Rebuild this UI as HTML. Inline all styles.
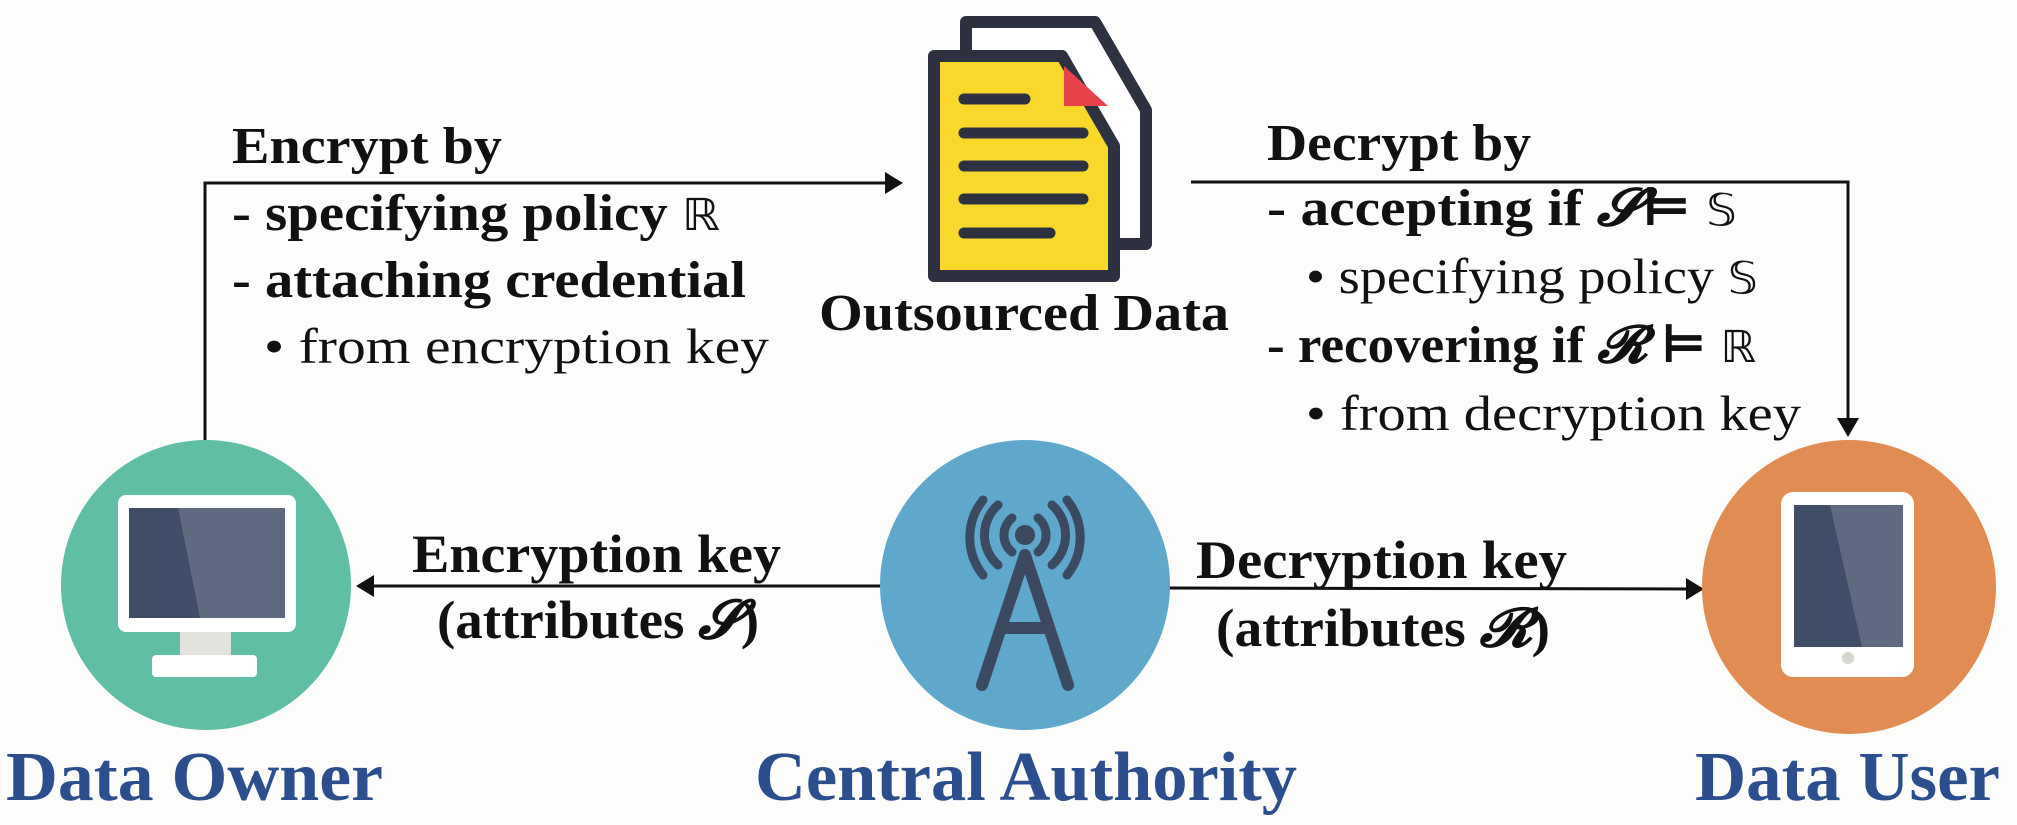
<!DOCTYPE html>
<html><head><meta charset="utf-8"><style>
html,body{margin:0;padding:0;background:#fdfdfc;}
svg{display:block;}
text{font-family:"Liberation Serif","DejaVu Serif",serif;fill:#111;}
.b{font-weight:bold;}
.lab{font-weight:bold;fill:#2b4f8e;font-size:70px;}
</style></head><body>
<svg width="2017" height="825" viewBox="0 0 2017 825" xmlns="http://www.w3.org/2000/svg">
<rect width="2017" height="825" fill="#fdfdfc"/>
<polyline points="205,440 205,183 888,183" fill="none" stroke="#111" stroke-width="3"/>
<polygon points="903,183 885,172 885,194" fill="#111"/>
<polyline points="1191,182 1848,182 1848,420" fill="none" stroke="#111" stroke-width="3"/>
<polygon points="1848,437 1837,418 1859,418" fill="#111"/>
<line x1="881" y1="586" x2="372" y2="586" stroke="#111" stroke-width="3"/>
<polygon points="356,586 374,575 374,597" fill="#111"/>
<line x1="1168" y1="588" x2="1688" y2="589" stroke="#111" stroke-width="3"/>
<polygon points="1704,589 1686,578 1686,600" fill="#111"/>

<path d="M966,22 L1095,22 L1146,110 L1146,244 L966,244 Z" fill="#fff" stroke="#2d3140" stroke-width="12" stroke-linejoin="round"/>
<path d="M934,56 L1062,56 L1114,146 L1114,276 L934,276 Z" fill="#f8d92b" stroke="#2d3140" stroke-width="12" stroke-linejoin="round"/>
<polygon points="1064,66 1108,106 1064,106" fill="#e8434a"/>
<g stroke="#2d3140" stroke-width="11" stroke-linecap="round">
<line x1="964" y1="99" x2="1025" y2="99"/>
<line x1="964" y1="133" x2="1083" y2="133"/>
<line x1="964" y1="166" x2="1083" y2="166"/>
<line x1="964" y1="199" x2="1083" y2="199"/>
<line x1="964" y1="233" x2="1050" y2="233"/>
</g>
<text x="819" y="330" class="b" font-size="52" textLength="410" lengthAdjust="spacingAndGlyphs">Outsourced Data</text>

<text x="232" y="163" class="b" font-size="52" textLength="270" lengthAdjust="spacingAndGlyphs">Encrypt by</text>
<text x="232" y="230" class="b" font-size="52" textLength="488" lengthAdjust="spacingAndGlyphs">- specifying policy <tspan font-weight="normal" font-family="DejaVu Sans, sans-serif" font-size="44">ℝ</tspan></text>
<text x="232" y="297" class="b" font-size="52" textLength="514" lengthAdjust="spacingAndGlyphs">- attaching credential</text>
<text x="264" y="363" font-size="50" textLength="505" lengthAdjust="spacingAndGlyphs">• from encryption key</text>

<text x="1267" y="160" class="b" font-size="52" textLength="264" lengthAdjust="spacingAndGlyphs">Decrypt by</text>
<text x="1267" y="225" class="b" font-size="52" textLength="470" lengthAdjust="spacingAndGlyphs">- accepting if <tspan font-style="italic">𝓢</tspan>⊨ <tspan font-weight="normal" font-family="DejaVu Sans, sans-serif" font-size="44">𝕊</tspan></text>
<text x="1306" y="293" font-size="50" textLength="452" lengthAdjust="spacingAndGlyphs">• specifying policy <tspan font-family="DejaVu Sans, sans-serif" font-size="44">𝕊</tspan></text>
<text x="1267" y="362" class="b" font-size="52" textLength="489" lengthAdjust="spacingAndGlyphs">- recovering if <tspan font-style="italic">𝓡</tspan> ⊨ <tspan font-weight="normal" font-family="DejaVu Sans, sans-serif" font-size="44">ℝ</tspan></text>
<text x="1306" y="430" font-size="50" textLength="495" lengthAdjust="spacingAndGlyphs">• from decryption key</text>

<circle cx="206" cy="585" r="145" fill="#5fbea4"/>
<circle cx="1025" cy="585" r="145" fill="#5fa8cc"/>
<circle cx="1849" cy="587" r="147" fill="#e08c52"/>

<rect x="180" y="630" width="51" height="26" fill="#e4e2dc"/>
<rect x="152" y="655" width="105" height="22" rx="4" fill="#fff"/>
<rect x="118" y="495" width="178" height="137" rx="8" fill="#fff"/>
<rect x="129" y="508" width="156" height="110" fill="#3f4d66"/>
<polygon points="178,508 285,508 285,618 200,618" fill="#5f6a80"/>

<rect x="1781" y="492" width="133" height="185" rx="12" fill="#fff"/>
<rect x="1794" y="505" width="109" height="142" fill="#3f4d66"/>
<polygon points="1830,505 1903,505 1903,647 1862,647" fill="#5f6a80"/>
<circle cx="1848" cy="658" r="6" fill="#d8d6cc"/>

<g fill="none" stroke="#3c4a60" stroke-width="9" stroke-linecap="round">
<path d="M1012,518 A22,22 0 0 0 1012,552"/>
<path d="M1038,518 A22,22 0 0 1 1038,552"/>
<path d="M998,505 A40,40 0 0 0 998,565"/>
<path d="M1052,505 A40,40 0 0 1 1052,565"/>
<path d="M983,500 A60,60 0 0 0 983,575"/>
<path d="M1067,500 A60,60 0 0 1 1067,575"/>
<path d="M1025,555 L982,685 M1025,555 L1068,685 M1004,628 L1046,628" stroke-width="12"/>
</g>
<circle cx="1025" cy="535" r="10" fill="#3c4a60"/>

<text x="412" y="572" class="b" font-size="54" textLength="369" lengthAdjust="spacingAndGlyphs">Encryption key</text>
<text x="437" y="638" class="b" font-size="54" textLength="322" lengthAdjust="spacingAndGlyphs">(attributes <tspan font-style="italic">𝓢</tspan>)</text>
<text x="1196" y="578" class="b" font-size="54" textLength="371" lengthAdjust="spacingAndGlyphs">Decryption key</text>
<text x="1216" y="646" class="b" font-size="54" textLength="334" lengthAdjust="spacingAndGlyphs">(attributes <tspan font-style="italic">𝓡</tspan>)</text>

<text x="6" y="800" class="lab" textLength="377" lengthAdjust="spacingAndGlyphs">Data Owner</text>
<text x="755" y="800" class="lab" textLength="542" lengthAdjust="spacingAndGlyphs">Central Authority</text>
<text x="1695" y="800" class="lab" textLength="305" lengthAdjust="spacingAndGlyphs">Data User</text>
</svg>
</body></html>
